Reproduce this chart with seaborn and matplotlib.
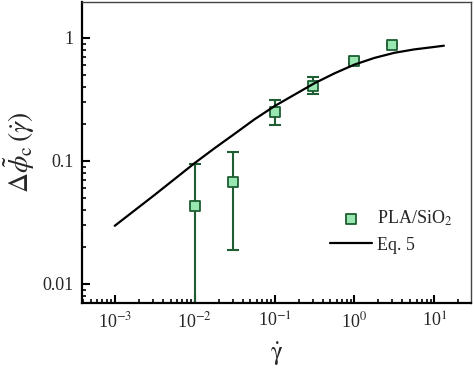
import numpy as np
import pandas as pd
import matplotlib
matplotlib.use("Agg")
import matplotlib.pyplot as plt
from matplotlib.ticker import FixedLocator, FuncFormatter, LogLocator, NullFormatter
import seaborn as sns

# ---- data ----
shear_rate = [0.01, 0.03, 0.1, 0.3, 1.0, 3.0]
dphi = [0.043, 0.068, 0.252, 0.408, 0.653, 0.883]
err_low = [0.042, 0.049, 0.057, 0.059, 0.025, 0.01]
err_high = [0.051, 0.050, 0.062, 0.070, 0.025, 0.01]

# Eq. 5 curve, read at quarter/half decades
eq5_x = [1e-3, 3.16e-3, 1e-2, 1.78e-2, 3.16e-2, 5.62e-2, 0.1, 0.178, 0.316,
         0.562, 1.0, 1.78, 3.16, 5.62, 10.0, 13.2]
eq5_y = [0.0297, 0.053, 0.096, 0.127, 0.166, 0.218, 0.279, 0.346, 0.428,
         0.515, 0.607, 0.688, 0.757, 0.807, 0.845, 0.865]

x_ticks = [1e-3, 1e-2, 1e-1, 1e0, 1e1]
y_ticks = [0.01, 0.1, 1]
y_ticklabels = ["0.01", "0.1", "1"]

sns.set_theme(style="ticks")
plt.rcParams["font.family"] = ["Liberation Serif", "DejaVu Serif"]
plt.rcParams["mathtext.fontset"] = "stix"

fig = plt.figure(figsize=(4.74, 3.75), dpi=100)
ax = fig.add_axes([82/474, 72/375, (471-82)/474, (303-2)/375])

pts = pd.DataFrame({"x": shear_rate, "y": dphi})
line = pd.DataFrame({"x": eq5_x, "y": eq5_y})

fill = "#98E6B0"
edge = "#1E5E32"

ax.errorbar(shear_rate, dphi, yerr=[err_low, err_high], fmt="none",
            ecolor=edge, elinewidth=1.5, capsize=4, capthick=1.5, zorder=2)
sns.scatterplot(data=pts, x="x", y="y", ax=ax, marker="s", s=60,
                color=fill, edgecolor=edge, linewidth=1.3, zorder=3,
                label="PLA/SiO$_2$")
sns.lineplot(data=line, x="x", y="y", ax=ax, color="black", linewidth=1.6,
             zorder=4, label="Eq. 5", sort=False)

ax.set_xscale("log")
ax.set_yscale("log")
ax.set_xlim(10**-3.41, 10**1.46)
ax.set_ylim(0.0070, 1.96)

ax.xaxis.set_major_locator(FixedLocator(x_ticks))
ax.xaxis.set_major_formatter(FuncFormatter(lambda v, p: "10$^{%d}$" % int(round(np.log10(v)))))
ax.xaxis.set_minor_locator(LogLocator(base=10, subs=np.arange(2, 10), numticks=20))
ax.xaxis.set_minor_formatter(NullFormatter())
ax.yaxis.set_major_locator(FixedLocator(y_ticks))
ax.set_yticklabels(y_ticklabels)
ax.yaxis.set_minor_locator(LogLocator(base=10, subs=np.arange(2, 10), numticks=20))
ax.yaxis.set_minor_formatter(NullFormatter())

ax.tick_params(which="major", direction="in", length=6, width=1.5, labelsize=13,
               color="black", pad=6, top=False, right=False)
ax.tick_params(which="minor", direction="in", length=3, width=1.2,
               color="black", top=False, right=False)

for s in ["left", "bottom"]:
    ax.spines[s].set_linewidth(1.6)
    ax.spines[s].set_color("black")
for s in ["top", "right"]:
    ax.spines[s].set_linewidth(1.0)
    ax.spines[s].set_color("#444444")

ax.set_xlabel(r"$\dot{\mathrm{\gamma}}$", fontsize=18, labelpad=6)
ax.set_ylabel(r"$\Delta\tilde{\phi}_{\rm c}\,(\dot{\gamma})$", fontsize=20, labelpad=4)

ax.legend(loc="upper left", bbox_to_anchor=((330-82)/389, 1 - (209-2)/301),
          frameon=False, fontsize=13, handlelength=2.3, handletextpad=0.3,
          labelspacing=0.45, borderaxespad=0, borderpad=0)

fig.savefig("out.png", dpi=100)
